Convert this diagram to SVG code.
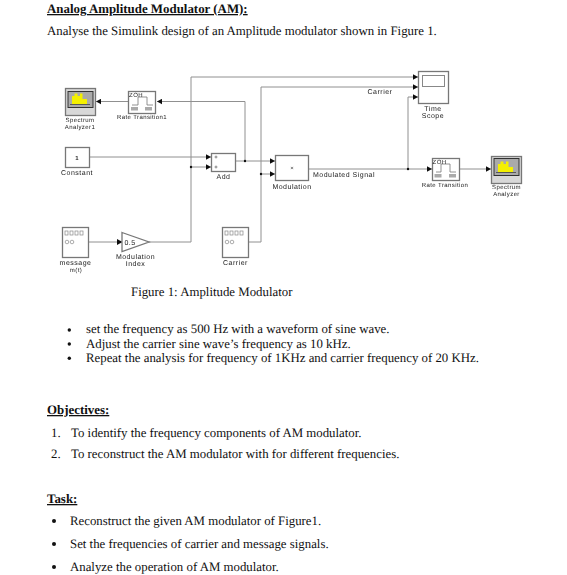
<svg xmlns="http://www.w3.org/2000/svg" width="567" height="575" viewBox="0 0 567 575">
<defs>
<marker id="arr" markerUnits="userSpaceOnUse" markerWidth="6" markerHeight="6" refX="5" refY="3" orient="auto"><path d="M0 0.3L5 3L0 5.700z" fill="#111"/></marker>
<filter id="soft" x="-2%" y="-2%" width="104%" height="104%"><feGaussianBlur stdDeviation="0.4"/></filter>
</defs>
<style>
.t{font-family:"Liberation Serif","Times New Roman",serif;font-size:12.830px;fill:#111;text-rendering:geometricPrecision}
.h{font-weight:bold;text-decoration:underline;font-size:12.900px}
.s{font-family:"Liberation Sans",Arial,sans-serif;font-size:7px;letter-spacing:0.5px;fill:#222;text-anchor:middle;text-rendering:geometricPrecision}
.m{font-size:6px;letter-spacing:0.4px}
.n{font-size:6px;letter-spacing:0}
.b{fill:#fff;stroke:#777;stroke-width:1.300}
.g{fill:#d8d8d8;stroke:#777;stroke-width:1.300}
.w{fill:none;stroke:#909090;stroke-width:1}
.a{marker-end:url(#arr)}
.j{fill:#111}
.o{fill:none;stroke:#777;stroke-width:0.800}
.p{fill:none;stroke:#888;stroke-width:0.700}
</style>
<rect width="567" height="575" fill="#fff"/>
<g id="figure" filter="url(#soft)">
<g id="connectors">
<path class="w a" d="M128 101.500H96"/>
<path class="w a" d="M245 161V101.500H157"/>
<path class="w a" d="M89 157H211"/>
<path class="w a" d="M191 167H211"/>
<path class="w a" d="M149 242H191V77H418"/>
<path class="w a" d="M249 242H261V87H418"/>
<path class="w a" d="M236 161H275"/>
<path class="w a" d="M261 174H275"/>
<path class="w a" d="M309 169H432"/>
<path class="w a" d="M408 169V97H418"/>
<path class="w a" d="M459 169H491"/>
<path class="w" d="M89 242H122"/>
<path d="M117 239L122.500 242L117 245z" fill="#111"/>
<circle class="j" cx="191" cy="167" r="1.200"/>
<circle class="j" cx="245" cy="161" r="1.200"/>
<circle class="j" cx="261" cy="174" r="1.200"/>
<circle class="j" cx="408" cy="169" r="1.200"/>
</g>
<g id="spectrum1">
<rect class="g" x="65.500" y="88.500" width="30" height="27"/>
<rect x="68" y="91.500" width="25" height="16" fill="#aaa" stroke="#333"/>
<path d="M72 104V96H74.500V93.500H77.500V96H80V93.500H82.500V99H87V104z" fill="#f4f000"/>
<path d="M70 104.500H90" stroke="#222" stroke-width="0.600"/>
<text class="s m" x="80" y="122">Spectrum</text><text class="s m" x="80" y="128.500">Analyzer1</text>
</g>
<g id="rate1">
<rect class="b" x="128.500" y="91.500" width="27" height="22"/>
<path class="o" d="M132 105H138V97H147V105H153"/>
<rect x="131" y="107" width="7" height="3.500" fill="#aaa"/><rect x="145" y="107" width="7" height="3.500" fill="#aaa"/>
<text class="s m" x="136" y="96.500">ZOH</text>
<text class="s m" x="142" y="119">Rate Transition1</text>
</g>
<g id="constant">
<rect class="b" x="65.500" y="147.500" width="24" height="20"/>
<text class="s n" x="77" y="159.500" style="font-weight:bold">1</text>
<text class="s" x="77" y="174.500">Constant</text>
</g>
<g id="add">
<rect class="b" x="211.500" y="153.500" width="24" height="18"/>
<text class="s n" x="216" y="159">+</text><text class="s n" x="216" y="169">+</text>
<text class="s" x="223.500" y="179">Add</text>
</g>
<g id="modulation">
<rect class="b" x="275.500" y="155.500" width="33" height="25"/>
<text class="s n" x="292" y="170">×</text>
<text class="s" x="292" y="188.500">Modulation</text>
</g>
<g id="scope">
<rect class="b" x="418.500" y="71.500" width="30" height="32"/>
<rect x="422.500" y="75.500" width="22" height="11" fill="#fff" stroke="#888"/>
<text class="s" x="433" y="111">Time</text><text class="s" x="433" y="118">Scope</text>
</g>
<g id="rate">
<rect class="b" x="432.500" y="158.500" width="27" height="22"/>
<path class="o" d="M436 172H441V164H450V172H456"/>
<rect x="434.500" y="174" width="7" height="3.500" fill="#aaa"/><rect x="449" y="174" width="7" height="3.500" fill="#aaa"/>
<text class="s m" x="439.500" y="163.500">ZOH</text>
<text class="s m" x="445" y="186.500">Rate Transition</text>
</g>
<g id="spectrum">
<rect class="g" x="491.500" y="156.500" width="30" height="27"/>
<rect x="494" y="158.500" width="25" height="17" fill="#aaa" stroke="#333"/>
<path d="M498 172V164H500.500V161.500H503.500V164H506V161.500H508.500V167H513V172z" fill="#f4f000"/>
<path d="M496 172.500H516" stroke="#222" stroke-width="0.600"/>
<text class="s m" x="506.500" y="189">Spectrum</text><text class="s m" x="506.500" y="195.500">Analyzer</text>
</g>
<g id="message">
<rect class="b" x="62.500" y="227.500" width="26" height="30"/>
<g class="p"><rect x="65" y="231" width="3" height="4"/><rect x="70" y="231" width="3" height="4"/><rect x="75" y="231" width="3" height="4"/><rect x="80" y="231" width="3" height="4"/><circle cx="67" cy="242" r="1.800"/><circle cx="72" cy="242" r="1.800"/></g>
<text class="s" x="75.500" y="264.500">message</text><text class="s m" x="76" y="272">m(t)</text>
</g>
<g id="gain">
<path class="b" d="M122 232.500L149 242L122 251.500z"/>
<text class="s" x="130" y="244.500">0.5</text>
<text class="s" x="135.500" y="258.500">Modulation</text><text class="s" x="135.500" y="265.800">Index</text>
</g>
<g id="carrier">
<rect class="b" x="222.500" y="227.500" width="26" height="30"/>
<g class="p"><rect x="225" y="231" width="3" height="4"/><rect x="230" y="231" width="3" height="4"/><rect x="235" y="231" width="3" height="4"/><rect x="240" y="231" width="3" height="4"/><circle cx="227" cy="242" r="1.800"/><circle cx="232" cy="242" r="1.800"/></g>
<text class="s" x="235.500" y="264.500">Carrier</text>
</g>
<text class="s" x="380" y="93.500">Carrier</text>
<text class="s" x="344" y="176.700">Modulated Signal</text>
</g>
<g id="bullets" fill="#111">
<circle cx="69.300" cy="330" r="1.700"/><circle cx="69.300" cy="344" r="1.700"/><circle cx="69.300" cy="358.300" r="1.700"/>
<circle cx="54" cy="521" r="2"/><circle cx="54" cy="544" r="2"/><circle cx="54" cy="567" r="2"/>
</g>
<g id="page">
<text class="t h" x="47" y="13">Analog Amplitude Modulator (AM):</text>
<text class="t" x="47" y="35">Analyse the Simulink design of an Amplitude modulator shown in Figure 1.</text>
<text class="t" x="131" y="296">Figure 1: Amplitude Modulator</text>
<text class="t" x="86" y="333">set the frequency as 500 Hz with a waveform of sine wave.</text>
<text class="t" x="86" y="347.500">Adjust the carrier sine wave’s frequency as 10 kHz.</text>
<text class="t" x="86" y="362">Repeat the analysis for frequency of 1KHz and carrier frequency of 20 KHz.</text>
<text class="t h" x="47" y="414">Objectives:</text>
<text class="t" x="51" y="437">1.</text><text class="t" x="71" y="437">To identify the frequency components of AM modulator.</text>
<text class="t" x="51" y="458">2.</text><text class="t" x="71" y="458">To reconstruct the AM modulator with for different frequencies.</text>
<text class="t h" x="47" y="503">Task:</text>
<text class="t" x="70" y="525">Reconstruct the given AM modulator of Figure1.</text>
<text class="t" x="70" y="548">Set the frequencies of carrier and message signals.</text>
<text class="t" x="70" y="571">Analyze the operation of AM modulator.</text>
</g>
</svg>
